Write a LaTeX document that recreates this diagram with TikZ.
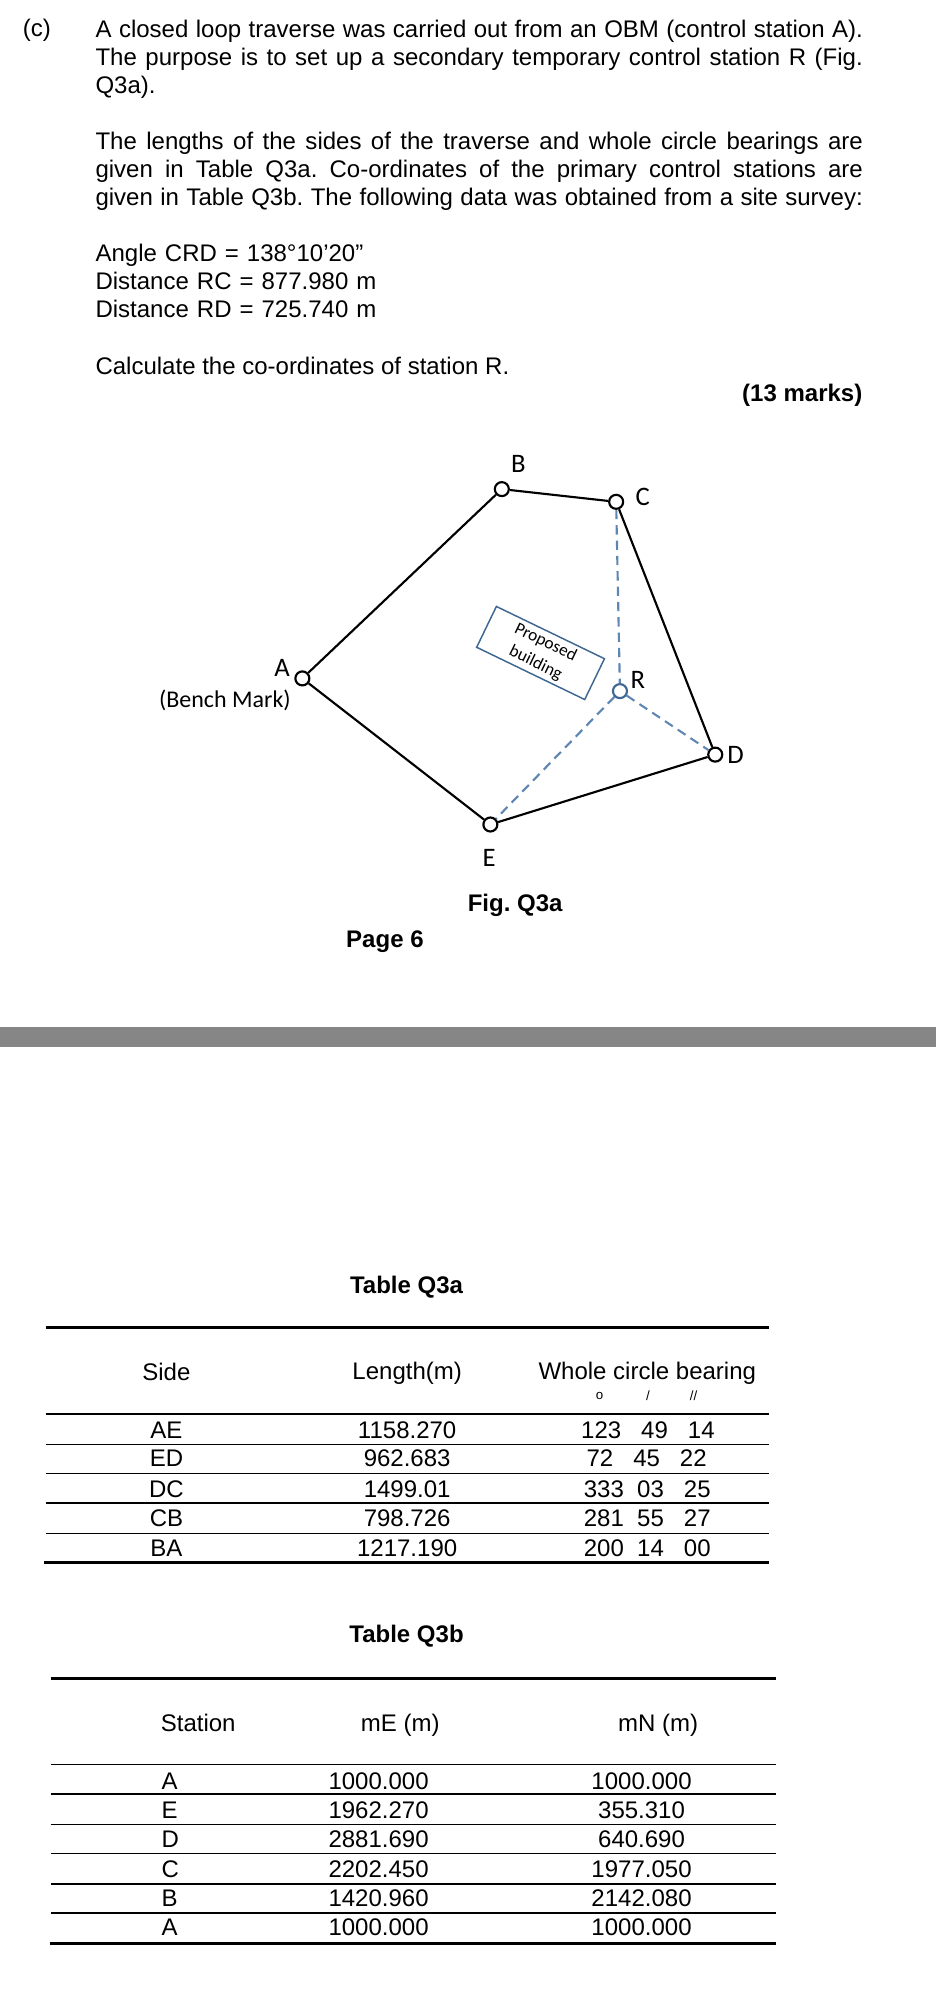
\documentclass[tikz,border=0pt]{standalone}
\usepackage{fontspec}
\setmainfont{Liberation Sans}
\newfontfamily\figfont{Carlito}
\definecolor{bluedash}{HTML}{5F86B3}
\definecolor{boxblue}{HTML}{3E6791}
\definecolor{bandgray}{HTML}{868686}
\begin{document}
\frenchspacing
\begin{tikzpicture}[x=0.9525pt,y=-0.9525pt]
 \tikzset{body/.style={font=\fontsize{18}{21}\selectfont,inner sep=0pt}}
 \tikzset{para/.style={body,anchor=north west,text width=575.3pt,align=justify}}
 \tikzset{heading/.style={font=\fontsize{18}{21}\selectfont\bfseries,inner sep=0pt}}
 \tikzset{station/.style={draw,circle,line width=1.6pt,fill=white,inner sep=0pt,minimum size=10.5pt}}
 \tikzset{label/.style={font=\figfont\fontsize{20}{21}\selectfont,inner sep=0pt}}
 \tikzset{side/.style={line width=1.6pt}}
 \tikzset{sight/.style={line width=1.6pt,color=bluedash,dash pattern=on 7pt off 4.5pt}}
 \tikzset{thinrule/.style={line width=1.2pt}}
 \tikzset{thickrule/.style={line width=2.2pt}}
 \useasboundingbox (0,0) rectangle (737,1568);
 \fill[bandgray] (0,808) rectangle (737,824.5);

 \node[body] (PartLabel) at (29,24) {(c)};
 \node[para] (IntroText) at (75,15.5) {A closed loop traverse was carried out from an OBM (control station A).\linebreak The purpose is to set up a secondary temporary control station R (Fig.\linebreak Q3a).};
 \node[para] (DataText) at (75,103.5) {The lengths of the sides of the traverse and whole circle bearings are\linebreak given in Table Q3a. Co-ordinates of the primary control stations are\linebreak \makebox[575.3pt][s]{given in Table Q3b. The following data was obtained from a site survey:}};
 \node[para,align=left] (AngleText) at (75,192) {Angle CRD = 138°10’20”\\Distance RC = 877.980 m\\Distance RD = 725.740 m};
 \node[para] (TaskText) at (75,280.5) {Calculate the co-ordinates of station R.};
 \node[heading,anchor=east] (Marks) at (679,311) {(13 marks)};

 \node[station] (A) at (238,534) {};
 \node[station] (B) at (395,385) {};
 \node[station] (C) at (485,395) {};
 \node[station] (D) at (563,594) {};
 \node[station] (E) at (386,649) {};
 \node[station,draw=boxblue] (R) at (488,544) {};
 \draw[side] (A) -- (B);
 \draw[side] (B) -- (C);
 \draw[side] (C) -- (D);
 \draw[side] (D) -- (E);
 \draw[side] (E) -- (A);
 \draw[sight] (C) -- (R);
 \draw[sight] (R) -- (D);
 \draw[sight] (R) -- (E);
 \node[label] (LabelA) at (222,526) {A};
 \node[label] (LabelB) at (408,365) {B};
 \node[label] (LabelC) at (506,391) {C};
 \node[label] (LabelD) at (579,594) {D};
 \node[label] (LabelE) at (385,675) {E};
 \node[label] (LabelR) at (502,535) {R};
 \node[label,font=\figfont\fontsize{18}{21}\selectfont] (BenchMark) at (177,551.5) {(Bench Mark)};
 \node[draw=boxblue,line width=1.1pt,rotate=-25.8,minimum width=90pt,minimum height=34pt,inner sep=0pt,align=center,font=\figfont\fontsize{13}{17}\selectfont] (Building) at (425.5,514) {Proposed\\building};
 \node[heading] (FigCaption) at (405.5,713) {Fig. Q3a};
 \node[heading] (PageNo) at (303,741.5) {Page 6};

 \node[heading] (TableA) at (320,1013) {Table Q3a};
 \draw[thickrule] (36,1045) -- (605,1045);
 \draw[thinrule] (36,1113) -- (605,1113);
 \draw[thinrule] (36,1137) -- (605,1137);
 \draw[thinrule] (36,1160) -- (605,1160);
 \draw[thinrule] (36,1183) -- (605,1183);
 \draw[thinrule] (36,1207) -- (605,1207);
 \draw[thickrule] (35,1230) -- (605,1230);
 \node[body] (SideHead) at (131,1080) {Side};
 \node[body] (LengthHead) at (320.5,1081) {Length(m)};
 \node[body] (BearingHead) at (509.5,1081) {Whole circle bearing};
 \node[font=\fontsize{10}{12}\selectfont,inner sep=0pt] (DegMark) at (472,1099) {o};
 \node[font=\fontsize{10}{12}\selectfont,inner sep=0pt] (MinMark) at (510,1099) {/};
 \node[font=\fontsize{10}{12}\selectfont,inner sep=0pt] (SecMark) at (546,1099) {//};
 \node[body] (SideAE) at (131,1126) {AE};
 \node[body] (SideED) at (131,1148) {ED};
 \node[body] (SideDC) at (131,1172) {DC};
 \node[body] (SideCB) at (131,1195) {CB};
 \node[body] (SideBA) at (131,1219) {BA};
 \node[body] (LengthAE) at (320.5,1126) {1158.270};
 \node[body] (LengthED) at (320.5,1148) {962.683};
 \node[body] (LengthDC) at (320.5,1172) {1499.01};
 \node[body] (LengthCB) at (320.5,1195) {798.726};
 \node[body] (LengthBA) at (320.5,1219) {1217.190};
 \node[body] (BearingAE) at (510,1126) {123\ \ \ 49\ \ \ 14};
 \node[body] (BearingED) at (509,1148) {72\ \ \ 45\ \ \ 22};
 \node[body] (BearingDC) at (509.5,1172) {333\ \ 03\ \ \ 25};
 \node[body] (BearingCB) at (509.5,1195) {281\ \ 55\ \ \ 27};
 \node[body] (BearingBA) at (509.5,1219) {200\ \ 14\ \ \ 00};

 \node[heading] (TableB) at (320,1288) {Table Q3b};
 \draw[thickrule] (40,1321) -- (611,1321);
 \draw[thinrule] (40,1389) -- (611,1389);
 \draw[thinrule] (40,1412) -- (611,1412);
 \draw[thinrule] (40,1436) -- (611,1436);
 \draw[thinrule] (40,1459) -- (611,1459);
 \draw[thinrule] (40,1483) -- (611,1483);
 \draw[thinrule] (40,1506) -- (611,1506);
 \draw[thickrule] (39,1530) -- (611,1530);
 \node[body] (StationHead) at (156,1356) {Station};
 \node[body] (EastHead) at (315,1358) {mE (m)};
 \node[body] (NorthHead) at (518,1358) {mN (m)};
 \node[body,anchor=west] (StationA) at (127,1402) {A};
 \node[body,anchor=west] (StationE) at (127,1425) {E};
 \node[body,anchor=west] (StationD) at (127,1448) {D};
 \node[body,anchor=west] (StationC) at (127,1471) {C};
 \node[body,anchor=west] (StationB) at (127,1494) {B};
 \node[body,anchor=west] (StationEnd) at (127,1517) {A};
 \node[body] (EastA) at (298,1402) {1000.000};
 \node[body] (EastE) at (298,1425) {1962.270};
 \node[body] (EastD) at (298,1448) {2881.690};
 \node[body] (EastC) at (298,1471) {2202.450};
 \node[body] (EastB) at (298,1494) {1420.960};
 \node[body] (EastEnd) at (298,1517) {1000.000};
 \node[body] (NorthA) at (505,1402) {1000.000};
 \node[body] (NorthE) at (505,1425) {355.310};
 \node[body] (NorthD) at (505,1448) {640.690};
 \node[body] (NorthC) at (505,1471) {1977.050};
 \node[body] (NorthB) at (505,1494) {2142.080};
 \node[body] (NorthEnd) at (505,1517) {1000.000};
\end{tikzpicture}
\end{document}
